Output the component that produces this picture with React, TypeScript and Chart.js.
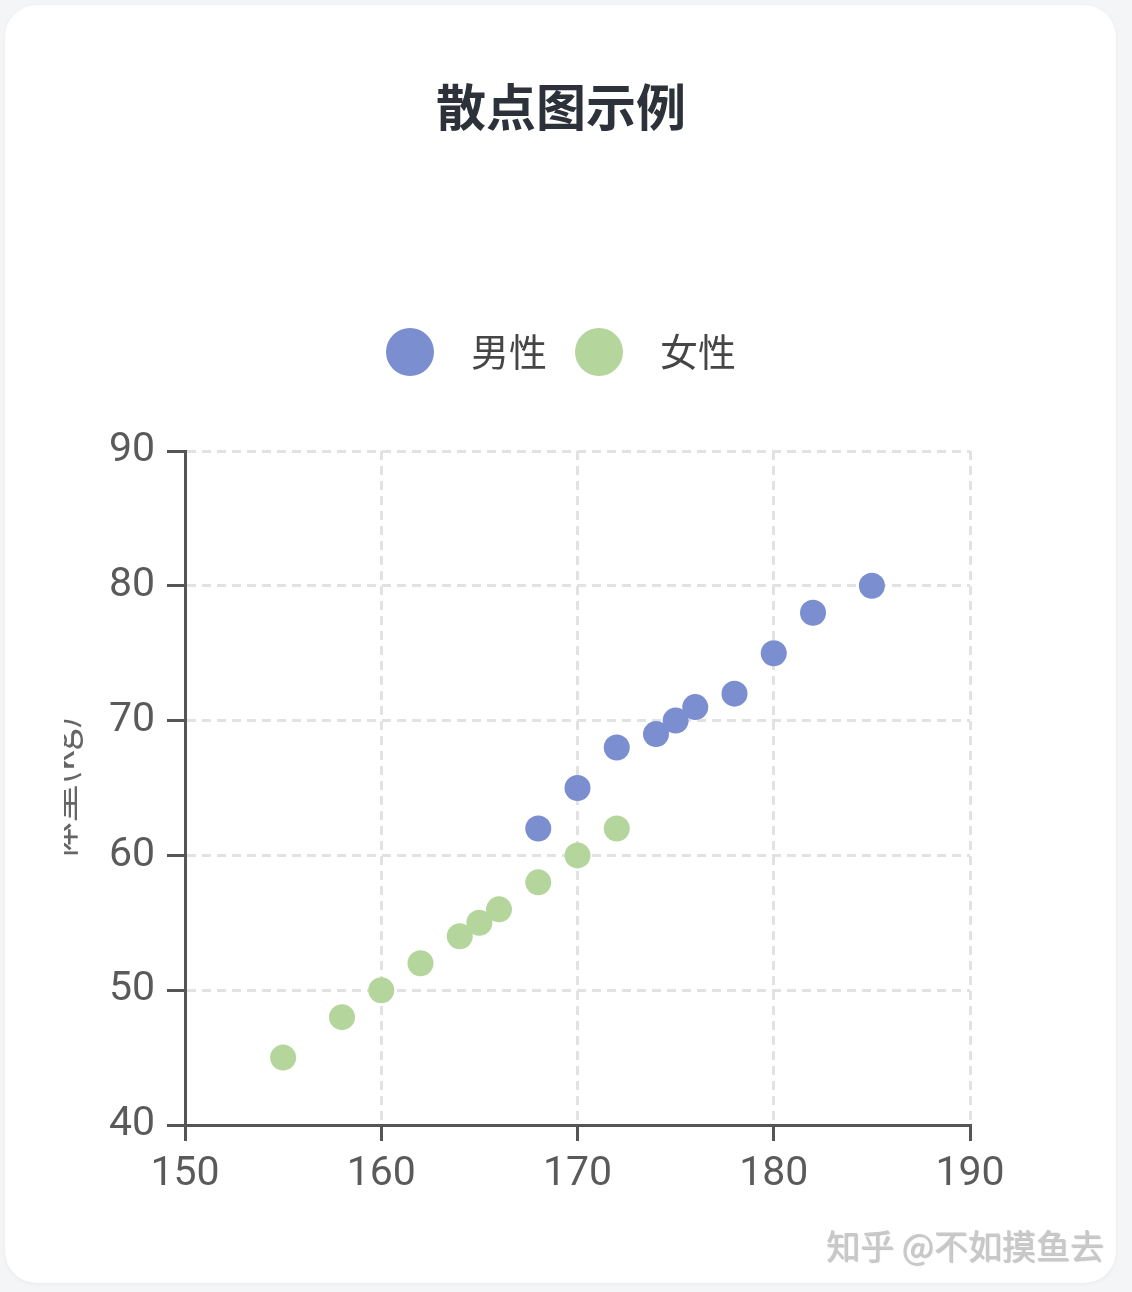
import React, { useEffect, useRef } from "react";
import { Chart, registerables } from "chart.js";

Chart.register(...registerables);

const TITLE = "散点图示例";
const SERIES_NAMES = ["男性", "女性"];
const Y_TITLE = "体重(kg)";
const WATERMARK = "知乎 @不如摸鱼去";

const maleHeights = [168, 170, 172, 174, 175, 176, 178, 180, 182, 185];
const maleWeights = [62, 65, 68, 69, 70, 71, 72, 75, 78, 80];
const femaleHeights = [155, 158, 160, 162, 164, 165, 166, 168, 170, 172];
const femaleWeights = [45, 48, 50, 52, 54, 55, 56, 58, 60, 62];

const xTicks = [150, 160, 170, 180, 190];
const yTicks = [40, 50, 60, 70, 80, 90];

const COLORS = ["#7a8ed0", "#b4d69c"];

const CJK = '"Noto Sans CJK SC", "Noto Sans", sans-serif';
const NUM = 'Roboto, "Noto Sans", sans-serif';

function makeDot(color: string) {
  const c = document.createElement("canvas");
  c.width = 66;
  c.height = 50;
  const g = c.getContext("2d")!;
  g.fillStyle = color;
  g.beginPath();
  g.arc(24, 25, 24, 0, Math.PI * 2);
  g.fill();
  return c;
}

const yTitlePlugin = {
  id: "yTitleClipped",
  afterDraw(chart: any) {
    const { ctx, chartArea } = chart;
    ctx.save();
    ctx.translate(-4, (chartArea.top + chartArea.bottom) / 2);
    ctx.rotate(-Math.PI / 2);
    ctx.font = `38px ${CJK}`;
    ctx.fillStyle = "#666666";
    ctx.textAlign = "center";
    ctx.textBaseline = "middle";
    ctx.fillText(Y_TITLE, 0, 0);
    ctx.restore();
  },
};

export default function App() {
  const ref = useRef<HTMLCanvasElement | null>(null);

  useEffect(() => {
    if (!ref.current) return;
    const dots = COLORS.map(makeDot);
    const male = maleHeights.map((h, i) => ({ x: h, y: maleWeights[i] }));
    const female = femaleHeights.map((h, i) => ({ x: h, y: femaleWeights[i] }));

    const gridCommon = {
      color: "#e2e2e2",
      lineWidth: 3,
      tickColor: "#555555",
      tickWidth: 3,
      tickBorderDash: [],
    };
    const borderCommon = { color: "#555555", width: 3, dash: [9, 6] };

    const chart = new Chart(ref.current, {
      type: "scatter",
      data: {
        datasets: [
          {
            label: SERIES_NAMES[0],
            data: male,
            backgroundColor: COLORS[0],
            borderWidth: 0,
            pointRadius: 13,
            pointHoverRadius: 13,
          },
          {
            label: SERIES_NAMES[1],
            data: female,
            backgroundColor: COLORS[1],
            borderWidth: 0,
            pointRadius: 13,
            pointHoverRadius: 13,
          },
        ],
      },
      options: {
        animation: false,
        responsive: true,
        maintainAspectRatio: false,
        layout: { padding: 0 },
        plugins: {
          tooltip: { enabled: false },
          title: {
            display: true,
            text: TITLE,
            color: "#2d3139",
            font: { family: CJK, size: 50, weight: "bold" },
            padding: { top: 77, bottom: 168 },
          },
          legend: {
            display: true,
            position: "top",
            align: "center",
            labels: {
              usePointStyle: true,
              pointStyleWidth: 66,
              boxHeight: 38,
              padding: 28,
              color: "#464646",
              font: { family: CJK, size: 38 },
              generateLabels: (c: any) =>
                c.data.datasets.map((ds: any, i: number) => ({
                  text: ds.label,
                  pointStyle: dots[i],
                  fillStyle: ds.backgroundColor,
                  strokeStyle: "rgba(0,0,0,0)",
                  lineWidth: 0,
                  hidden: false,
                  datasetIndex: i,
                  fontColor: "#464646",
                })),
            },
          },
        },
        scales: {
          x: {
            type: "linear",
            position: "bottom",
            min: xTicks[0],
            max: xTicks[xTicks.length - 1],
            ticks: {
              stepSize: xTicks[1] - xTicks[0],
              padding: 9,
              color: "#5a5a5a",
              font: { family: NUM, size: 41 },
              maxRotation: 0,
            },
            grid: { ...gridCommon, tickLength: 16 },
            border: borderCommon,
            afterFit: (s: any) => {
              s.height = 105;
            },
          },
          y: {
            type: "linear",
            position: "left",
            min: yTicks[0],
            max: yTicks[yTicks.length - 1],
            ticks: {
              stepSize: yTicks[1] - yTicks[0],
              padding: 12,
              color: "#5a5a5a",
              font: { family: NUM, size: 41 },
            },
            grid: { ...gridCommon, tickLength: 18 },
            border: borderCommon,
            afterFit: (s: any) => {
              s.width = 121;
            },
          },
          xTop: {
            type: "linear",
            position: "top",
            display: true,
            grid: { display: false },
            border: { display: false },
            ticks: { display: false },
            afterFit: (s: any) => {
              s.height = 70;
            },
          },
          yRight: {
            type: "linear",
            position: "right",
            display: true,
            grid: { display: false },
            border: { display: false },
            ticks: { display: false },
            afterFit: (s: any) => {
              s.width = 88;
            },
          },
        },
      } as any,
      plugins: [yTitlePlugin],
    });
    return () => chart.destroy();
  }, []);

  return (
    <div
      style={{
        position: "absolute",
        left: 0,
        top: 0,
        width: 1132,
        height: 1292,
        background: "#f4f5f7",
        overflow: "hidden",
      }}
    >
      <div
        style={{
          position: "absolute",
          left: 5,
          top: 5,
          width: 1111,
          height: 1278,
          background: "#ffffff",
          borderRadius: 32,
          boxShadow: "0 1px 4px rgba(0,0,0,0.05)",
        }}
      />
      <div
        style={{
          position: "absolute",
          left: 64,
          top: 0,
          width: 994,
          height: 1230,
        }}
      >
        <canvas ref={ref} />
      </div>
      <div
        style={{
          position: "absolute",
          left: 826,
          top: 1228,
          fontFamily: CJK,
          fontSize: 34,
          lineHeight: "34px",
          color: "#c9c9c9",
          textShadow: "1px 1px 1px rgba(0,0,0,0.25)",
          whiteSpace: "nowrap",
        }}
      >
        {WATERMARK}
      </div>
    </div>
  );
}
